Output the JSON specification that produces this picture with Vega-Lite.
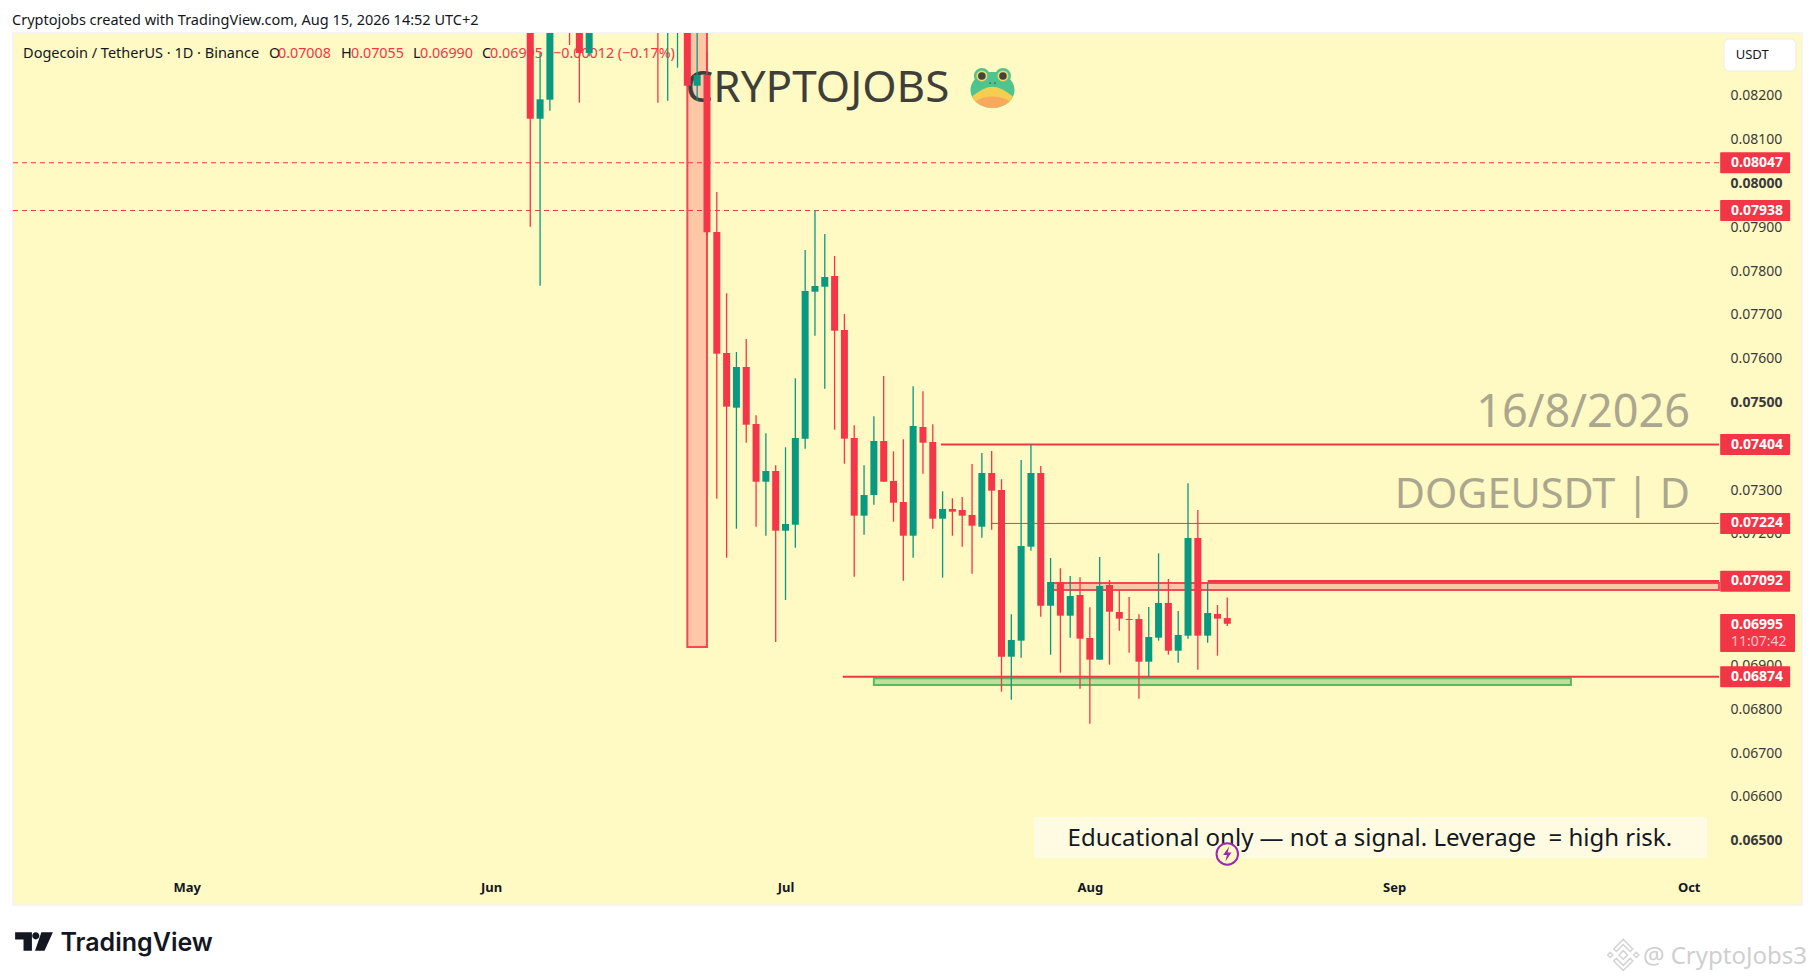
{
"$schema":"https://vega.github.io/schema/vega-lite/v6.json",
"width":1789,"height":872,"autosize":"none",
"padding":{"left":13,"top":33,"right":12,"bottom":75},
"background":"#FFFFFF",
"view":{"fill":"#FFF9C4","stroke":"#F2F2F0","strokeWidth":1.5},
"config":{"font":"Noto Sans"},
"datasets":{
"candles":[
{"date":"2026-06-05","open":0.0850,"high":0.0855,"low":0.079011,"close":0.081475},
{"date":"2026-06-06","open":0.081475,"high":0.082975,"low":0.077665,"close":0.081918},
{"date":"2026-06-07","open":0.081909,"high":0.0850,"low":0.081658,"close":0.0845},
{"date":"2026-06-09","open":0.0855,"high":0.0860,"low":0.083157,"close":0.0845},
{"date":"2026-06-10","open":0.0845,"high":0.0850,"low":0.081841,"close":0.082975},
{"date":"2026-06-11","open":0.082975,"high":0.0850,"low":0.0829,"close":0.0845},
{"date":"2026-06-18","open":0.0850,"high":0.0855,"low":0.081841,"close":0.0845},
{"date":"2026-06-19","open":0.0845,"high":0.0860,"low":0.081886,"close":0.0855},
{"date":"2026-06-20","open":0.0845,"high":0.0858,"low":0.082639,"close":0.0852},
{"date":"2026-06-21","open":0.0850,"high":0.0855,"low":0.0822,"close":0.082228},
{"date":"2026-06-22","open":0.082228,"high":0.0845,"low":0.081886,"close":0.082473},
{"date":"2026-06-23","open":0.082473,"high":0.0830,"low":0.0788,"close":0.078883},
{"date":"2026-06-24","open":0.07889,"high":0.079803,"low":0.072805,"close":0.076113},
{"date":"2026-06-25","open":0.076129,"high":0.077491,"low":0.071458,"close":0.074904},
{"date":"2026-06-26","open":0.074881,"high":0.076152,"low":0.07212,"close":0.07581},
{"date":"2026-06-27","open":0.07581,"high":0.076449,"low":0.074082,"close":0.074493},
{"date":"2026-06-28","open":0.074509,"high":0.074708,"low":0.072166,"close":0.073192},
{"date":"2026-06-29","open":0.073192,"high":0.074297,"low":0.07196,"close":0.073437},
{"date":"2026-06-30","open":0.073437,"high":0.073567,"low":0.069535,"close":0.072074},
{"date":"2026-07-01","open":0.072074,"high":0.073977,"low":0.070493,"close":0.072227},
{"date":"2026-07-02","open":0.072211,"high":0.075552,"low":0.071687,"close":0.07419},
{"date":"2026-07-03","open":0.074174,"high":0.07848,"low":0.073946,"close":0.077544},
{"date":"2026-07-04","open":0.077528,"high":0.079392,"low":0.076524,"close":0.077658},
{"date":"2026-07-05","open":0.077642,"high":0.078845,"low":0.075315,"close":0.077863},
{"date":"2026-07-06","open":0.077886,"high":0.078343,"low":0.074379,"close":0.076638},
{"date":"2026-07-07","open":0.076654,"high":0.077019,"low":0.073603,"close":0.074174},
{"date":"2026-07-08","open":0.07419,"high":0.07448,"low":0.071025,"close":0.072417},
{"date":"2026-07-09","open":0.072417,"high":0.073567,"low":0.071983,"close":0.072889},
{"date":"2026-07-10","open":0.072889,"high":0.074685,"low":0.072668,"close":0.074121},
{"date":"2026-07-11","open":0.074121,"high":0.075604,"low":0.07319,"close":0.073192},
{"date":"2026-07-12","open":0.073209,"high":0.073886,"low":0.07228,"close":0.072713},
{"date":"2026-07-13","open":0.072729,"high":0.07416,"low":0.070934,"close":0.07196},
{"date":"2026-07-14","open":0.07196,"high":0.075369,"low":0.071458,"close":0.074463},
{"date":"2026-07-15","open":0.074441,"high":0.075255,"low":0.073375,"close":0.074082},
{"date":"2026-07-16","open":0.074098,"high":0.074502,"low":0.07212,"close":0.072348},
{"date":"2026-07-17","open":0.072348,"high":0.072973,"low":0.071002,"close":0.07257},
{"date":"2026-07-18","open":0.07257,"high":0.072814,"low":0.07196,"close":0.072508},
{"date":"2026-07-19","open":0.072547,"high":0.072843,"low":0.07171,"close":0.072417},
{"date":"2026-07-20","open":0.072433,"high":0.073596,"low":0.071093,"close":0.072189},
{"date":"2026-07-21","open":0.072166,"high":0.073847,"low":0.071915,"close":0.073391},
{"date":"2026-07-22","open":0.073391,"high":0.073893,"low":0.072097,"close":0.072987},
{"date":"2026-07-23","open":0.073003,"high":0.073247,"low":0.068401,"close":0.069199},
{"date":"2026-07-24","open":0.069199,"high":0.070166,"low":0.068218,"close":0.069581},
{"date":"2026-07-25","open":0.069565,"high":0.073688,"low":0.069177,"close":0.071725},
{"date":"2026-07-26","open":0.07171,"high":0.074053,"low":0.071618,"close":0.073391},
{"date":"2026-07-27","open":0.073391,"high":0.073551,"low":0.070112,"close":0.070363},
{"date":"2026-07-28","open":0.070363,"high":0.071452,"low":0.069245,"close":0.070904},
{"date":"2026-07-29","open":0.070904,"high":0.071216,"low":0.068834,"close":0.070135},
{"date":"2026-07-30","open":0.070135,"high":0.071041,"low":0.069633,"close":0.070584},
{"date":"2026-07-31","open":0.070607,"high":0.071011,"low":0.068469,"close":0.06961},
{"date":"2026-08-01","open":0.069626,"high":0.070327,"low":0.067671,"close":0.069131},
{"date":"2026-08-02","open":0.069131,"high":0.071474,"low":0.069131,"close":0.070813},
{"date":"2026-08-03","open":0.070835,"high":0.07095,"low":0.069017,"close":0.070226},
{"date":"2026-08-04","open":0.070219,"high":0.070699,"low":0.069793,"close":0.070067},
{"date":"2026-08-05","open":0.07006,"high":0.070562,"low":0.069291,"close":0.070037},
{"date":"2026-08-06","open":0.07006,"high":0.070166,"low":0.068241,"close":0.069085},
{"date":"2026-08-07","open":0.069085,"high":0.070333,"low":0.068743,"close":0.069649},
{"date":"2026-08-08","open":0.069633,"high":0.071559,"low":0.069565,"close":0.070425},
{"date":"2026-08-09","open":0.070425,"high":0.070972,"low":0.069245,"close":0.069336},
{"date":"2026-08-10","open":0.069336,"high":0.070242,"low":0.069062,"close":0.069695},
{"date":"2026-08-11","open":0.069679,"high":0.073156,"low":0.06961,"close":0.071908},
{"date":"2026-08-12","open":0.071908,"high":0.072547,"low":0.068903,"close":0.069679},
{"date":"2026-08-13","open":0.069679,"high":0.070881,"low":0.069519,"close":0.070197},
{"date":"2026-08-14","open":0.070174,"high":0.070379,"low":0.069222,"close":0.070067},
{"date":"2026-08-15","open":0.07008,"high":0.07055,"low":0.0699,"close":0.06995}
],
"tags":[
{"start":"2026-10-04T05:00:00Z","end":"2026-10-11T08:00:00Z","top":0.08071,"bottom":0.08023,"at":"2026-10-05T07:30:00Z","price":0.08047,"label":"0.08047"},
{"start":"2026-10-04T05:00:00Z","end":"2026-10-11T08:00:00Z","top":0.07962,"bottom":0.07914,"at":"2026-10-05T07:30:00Z","price":0.07938,"label":"0.07938"},
{"start":"2026-10-04T05:00:00Z","end":"2026-10-11T08:00:00Z","top":0.07428,"bottom":0.0738,"at":"2026-10-05T07:30:00Z","price":0.07404,"label":"0.07404"},
{"start":"2026-10-04T05:00:00Z","end":"2026-10-11T08:00:00Z","top":0.07248,"bottom":0.072,"at":"2026-10-05T07:30:00Z","price":0.07224,"label":"0.07224"},
{"start":"2026-10-04T05:00:00Z","end":"2026-10-11T08:00:00Z","top":0.07116,"bottom":0.07068,"at":"2026-10-05T07:30:00Z","price":0.07092,"label":"0.07092"},
{"start":"2026-10-04T05:00:00Z","end":"2026-10-11T08:00:00Z","top":0.06898,"bottom":0.0685,"at":"2026-10-05T07:30:00Z","price":0.06874,"label":"0.06874"},
{"start":"2026-10-04T05:00:00Z","end":"2026-10-11T20:00:00Z","top":0.070174,"bottom":0.069307,"at":"2026-10-05T07:30:00Z","price":0.069923,"label":"0.06995"}
]
},
"layer":[
{"data":{"values":[{"date":"2026-04-13T05:00:00Z","price":0.083705,"label":"Cryptojobs created with TradingView.com, Aug 15, 2026 14:52 UTC+2"}]},
"mark":{"type":"text","align":"left","baseline":"middle","fontSize":14.5,"color":"#131722"},
"encoding":{
"x":{"field":"date","type":"temporal","scale":{"type":"utc","padding":0,"domain":["2026-04-13T07:26:00Z","2026-10-12T13:00:00Z"]},
"axis":{"orient":"bottom","title":null,"offset":-18,"labelPadding":0,"ticks":false,"domain":false,"grid":false,"labelFontSize":13,"labelFontWeight":"bold","labelColor":"#131722","labelFont":"Noto Sans","labelBaseline":"middle","labelAlign":"center","labelOverlap":false,"labelFlush":false,"labelExpr":"utcFormat(datum.value,'%b')",
"values":[{"year":2026,"month":5,"date":1,"utc":true},{"year":2026,"month":6,"date":1,"utc":true},{"year":2026,"month":7,"date":1,"utc":true},{"year":2026,"month":8,"date":1,"utc":true},{"year":2026,"month":9,"date":1,"utc":true},{"year":2026,"month":10,"date":1,"utc":true}]}},
"y":{"field":"price","type":"quantitative","scale":{"domain":[0.063533,0.083431],"nice":false,"zero":false},
"axis":{"orient":"right","title":null,"offset":-72,"labelPadding":0,"ticks":false,"domain":false,"grid":false,"labelFontSize":14,"labelFont":"Noto Sans","labelAlign":"left","labelBaseline":"middle","labelOverlap":false,"labelFlush":false,"format":".5f",
"labelColor":"#3A3A3A",
"labelFontWeight":{"condition":{"test":"indexof(['0.08000','0.07500','0.06500'],format(datum.value,'.5f'))>=0","value":"bold"},"value":"normal"},
"values":[0.065,0.066,0.067,0.068,0.069,0.07,0.071,0.072,0.073,0.074,0.075,0.076,0.077,0.078,0.079,0.08,0.081,0.082]}},
"text":{"field":"label"}}},
{"data":{"values":[
{"date":"2026-04-14T08:00:00Z","price":0.082945,"label":"Dogecoin / TetherUS · 1D · Binance"},
{"date":"2026-05-09T09:20:00Z","price":0.082945,"label":"O"},
{"date":"2026-05-16T17:16:00Z","price":0.082945,"label":"H"},
{"date":"2026-05-24T01:12:00Z","price":0.082945,"label":"L"},
{"date":"2026-05-31T02:00:00Z","price":0.082945,"label":"C"}]},
"mark":{"type":"text","align":"left","baseline":"middle","fontSize":14.5,"color":"#131722"},
"encoding":{"x":{"field":"date","type":"temporal"},"y":{"field":"price","type":"quantitative"},"text":{"field":"label"}}},
{"data":{"values":[
{"date":"2026-05-10T07:12:00Z","price":0.082945,"label":"0.07008"},
{"date":"2026-05-17T17:45:00Z","price":0.082945,"label":"0.07055"},
{"date":"2026-05-24T18:28:00Z","price":0.082945,"label":"0.06990"},
{"date":"2026-05-31T21:36:00Z","price":0.082945,"label":"0.06995"},
{"date":"2026-06-07T07:40:00Z","price":0.082945,"label":"−0.00012 (−0.17%)"}]},
"mark":{"type":"text","align":"left","baseline":"middle","fontSize":14.3,"color":"#F23645"},
"encoding":{"x":{"field":"date","type":"temporal"},"y":{"field":"price","type":"quantitative"},"text":{"field":"label"}}},
{"data":{"values":[{"date":"2026-10-01T03:00:00Z","price":0.074806,"label":"16/8/2026"}]},
"mark":{"type":"text","align":"right","baseline":"middle","dy":2.3,"fontSize":45,"color":"#ABA78E"},
"encoding":{"x":{"field":"date","type":"temporal"},"y":{"field":"price","type":"quantitative"},"text":{"field":"label"}}},
{"data":{"values":[{"date":"2026-10-01T03:00:00Z","price":0.072912,"label":"DOGEUSDT | D"}]},
"mark":{"type":"text","align":"right","baseline":"middle","dy":2.3,"fontSize":41.4,"color":"#ABA78E"},
"encoding":{"x":{"field":"date","type":"temporal"},"y":{"field":"price","type":"quantitative"},"text":{"field":"label"}}},
{"data":{"values":[{"date":"2026-07-22T02:00:00Z","price":0.08213}]},
"mark":{"type":"point","shape":"M-1,0 A1,0.82 0 1,1 1,0 A1,0.82 0 1,1 -1,0 Z","size":1936,"filled":true,"color":"#4FC48F","opacity":1},
"encoding":{"x":{"field":"date","type":"temporal"},"y":{"field":"price","type":"quantitative"}}},
{"data":{"values":[{"date":"2026-07-21T00:00:00Z","price":0.08245},{"date":"2026-07-23T03:36:00Z","price":0.08245}]},
"mark":{"type":"point","shape":"circle","size":254,"filled":true,"color":"#4FC48F","opacity":1},
"encoding":{"x":{"field":"date","type":"temporal"},"y":{"field":"price","type":"quantitative"}}},
{"data":{"values":[{"date":"2026-07-21T00:00:00Z","price":0.08245},{"date":"2026-07-23T03:36:00Z","price":0.08245}]},
"mark":{"type":"point","shape":"circle","size":120,"filled":true,"color":"#F0D768","opacity":1},
"encoding":{"x":{"field":"date","type":"temporal"},"y":{"field":"price","type":"quantitative"}}},
{"data":{"values":[{"date":"2026-07-21T00:00:00Z","price":0.08245},{"date":"2026-07-23T03:36:00Z","price":0.08245}]},
"mark":{"type":"point","shape":"circle","size":58,"filled":true,"color":"#44443F","opacity":1},
"encoding":{"x":{"field":"date","type":"temporal"},"y":{"field":"price","type":"quantitative"}}},
{"data":{"values":[{"date":"2026-07-21T20:00:00Z","price":0.08229},{"date":"2026-07-22T08:00:00Z","price":0.08229}]},
"mark":{"type":"point","shape":"circle","size":3,"filled":true,"color":"#2E5E48","opacity":1},
"encoding":{"x":{"field":"date","type":"temporal"},"y":{"field":"price","type":"quantitative"}}},
{"data":{"values":[{"date":"2026-07-22T02:00:00Z","price":0.08213}]},
"mark":{"type":"point","shape":"M-0.93,0.3 Q-0.4,-0.15 0,-0.15 Q0.4,-0.15 0.93,0.3 A1,0.82 0 0 1 -0.93,0.3 Z","size":1936,"filled":true,"color":"#F6CE4F","opacity":1},
"encoding":{"x":{"field":"date","type":"temporal"},"y":{"field":"price","type":"quantitative"}}},
{"data":{"values":[{"date":"2026-07-22T02:00:00Z","price":0.08213}]},
"mark":{"type":"point","shape":"M-0.78,0.5 Q0,0.1 0.78,0.5 A1,0.82 0 0 1 -0.78,0.5 Z","size":1936,"filled":true,"color":"#F8A95E","opacity":1},
"encoding":{"x":{"field":"date","type":"temporal"},"y":{"field":"price","type":"quantitative"}}},
{"data":{"values":[{"start":"2026-07-26T07:30:00Z","end":"2026-10-02T21:00:00Z","top":0.065542,"bottom":0.064606}]},
"mark":{"type":"rect","color":"#FFFBE3"},
"encoding":{"x":{"field":"start","type":"temporal"},"x2":{"field":"end"},"y":{"field":"top","type":"quantitative"},"y2":{"field":"bottom"}}},
{"data":{"values":[{"date":"2026-08-29T12:30:00Z","price":0.065085,"label":"Educational only — not a signal. Leverage\u00a0 = high risk."}]},
"mark":{"type":"text","align":"center","baseline":"middle","dy":2.3,"fontSize":24,"color":"#131722"},
"encoding":{"x":{"field":"date","type":"temporal"},"y":{"field":"price","type":"quantitative"},"text":{"field":"label"}}},
{"data":{"values":[
{"start":"2026-06-21","end":"2026-06-23","top":0.0860,"bottom":0.069421},
{"start":"2026-07-28","end":"2026-10-04T02:00:00Z","top":0.070881,"bottom":0.070721}]},
"mark":{"type":"rect","fill":"#FEC8A6","stroke":"#F5475A","strokeWidth":2,"clip":true},
"encoding":{"x":{"field":"start","type":"temporal"},"x2":{"field":"end"},"y":{"field":"top","type":"quantitative"},"y2":{"field":"bottom"}}},
{"data":{"values":[{"start":"2026-07-10","end":"2026-09-19","top":0.068706,"bottom":0.068553}]},
"mark":{"type":"rect","fill":"#BFE09A","stroke":"#5CB85C","strokeWidth":2},
"encoding":{"x":{"field":"start","type":"temporal"},"x2":{"field":"end"},"y":{"field":"top","type":"quantitative"},"y2":{"field":"bottom"}}},
{"data":{"values":[
{"start":"2026-04-13T07:26:00Z","end":"2026-10-04T02:00:00Z","price":0.08047},
{"start":"2026-04-13T07:26:00Z","end":"2026-10-04T02:00:00Z","price":0.07938}]},
"mark":{"type":"rule","color":"#F23645","strokeWidth":1,"strokeDash":[5,4]},
"encoding":{"x":{"field":"start","type":"temporal"},"x2":{"field":"end"},"y":{"field":"price","type":"quantitative"}}},
{"data":{"values":[
{"start":"2026-07-16T20:00:00Z","end":"2026-10-04T02:00:00Z","price":0.07404},
{"start":"2026-07-06T20:00:00Z","end":"2026-10-04T02:00:00Z","price":0.06874}]},
"mark":{"type":"rule","color":"#F23645","strokeWidth":2},
"encoding":{"x":{"field":"start","type":"temporal"},"x2":{"field":"end"},"y":{"field":"price","type":"quantitative"}}},
{"data":{"values":[{"start":"2026-08-13","end":"2026-10-04T02:00:00Z","price":0.07092}]},
"mark":{"type":"rule","color":"#F23645","strokeWidth":2.5},
"encoding":{"x":{"field":"start","type":"temporal"},"x2":{"field":"end"},"y":{"field":"price","type":"quantitative"}}},
{"data":{"values":[{"start":"2026-07-21T22:00:00Z","end":"2026-10-04T02:00:00Z","price":0.07224}]},
"mark":{"type":"rule","color":"#F23645","strokeWidth":1},
"encoding":{"x":{"field":"start","type":"temporal"},"x2":{"field":"end"},"y":{"field":"price","type":"quantitative"}}},
{"data":{"values":[{"date":"2026-06-20T19:30:00Z","price":0.082199,"label":"CRYPTOJOBS"}]},
"mark":{"type":"text","align":"left","baseline":"middle","dy":2.3,"fontSize":44,"color":"#3F3F3A"},
"encoding":{"x":{"field":"date","type":"temporal"},"y":{"field":"price","type":"quantitative"},"text":{"field":"label"}}},
{"data":{"name":"candles"},
"mark":{"type":"rule","strokeWidth":1.3,"clip":true},
"encoding":{"x":{"field":"date","type":"temporal"},"y":{"field":"low","type":"quantitative"},"y2":{"field":"high"},
"color":{"condition":{"test":"datum.close>=datum.open","value":"#089981"},"value":"#F53648"}}},
{"data":{"name":"candles"},
"mark":{"type":"bar","size":7,"clip":true},
"encoding":{"x":{"field":"date","type":"temporal"},"y":{"field":"open","type":"quantitative"},"y2":{"field":"close"},
"color":{"condition":{"test":"datum.close>=datum.open","value":"#089981"},"value":"#F53648"}}},
{"data":{"values":[{"date":"2026-08-15","price":0.064697}]},
"mark":{"type":"point","shape":"circle","size":460,"filled":false,"fill":"#FFF9C4","stroke":"#9C27B0","strokeWidth":2,"opacity":1},
"encoding":{"x":{"field":"date","type":"temporal"},"y":{"field":"price","type":"quantitative"}}},
{"data":{"values":[{"date":"2026-08-15","price":0.064697}]},
"mark":{"type":"point","shape":"M0.25,-1 L-0.55,0.15 L-0.05,0.15 L-0.25,1 L0.55,-0.2 L0.05,-0.2 Z","size":225,"filled":true,"color":"#9C27B0","opacity":1},
"encoding":{"x":{"field":"date","type":"temporal"},"y":{"field":"price","type":"quantitative"}}},
{"data":{"values":[{"start":"2026-10-04T14:24:00Z","end":"2026-10-11T22:00:00Z","top":0.083294,"bottom":0.082564}]},
"mark":{"type":"rect","fill":"#FFFFFF","stroke":"#ECECEC","strokeWidth":1,"cornerRadius":5},
"encoding":{"x":{"field":"start","type":"temporal"},"x2":{"field":"end"},"y":{"field":"top","type":"quantitative"},"y2":{"field":"bottom"}}},
{"data":{"values":[{"date":"2026-10-05T19:00:00Z","price":0.082936,"label":"USDT"}]},
"mark":{"type":"text","align":"left","baseline":"middle","fontSize":13,"color":"#131722"},
"encoding":{"x":{"field":"date","type":"temporal"},"y":{"field":"price","type":"quantitative"},"text":{"field":"label"}}},
{"data":{"name":"tags"},
"mark":{"type":"rect","color":"#F23645","cornerRadius":1},
"encoding":{"x":{"field":"start","type":"temporal"},"x2":{"field":"end"},"y":{"field":"top","type":"quantitative"},"y2":{"field":"bottom"}}},
{"data":{"name":"tags"},
"mark":{"type":"text","align":"left","baseline":"middle","fontSize":14,"fontWeight":"bold","color":"#FFFFFF"},
"encoding":{"x":{"field":"at","type":"temporal"},"y":{"field":"price","type":"quantitative"},"text":{"field":"label"}}},
{"data":{"values":[{"date":"2026-10-05T07:30:00Z","price":0.069534,"label":"11:07:42"}]},
"mark":{"type":"text","align":"left","baseline":"middle","fontSize":14,"color":"#FFC4CC"},
"encoding":{"x":{"field":"date","type":"temporal"},"y":{"field":"price","type":"quantitative"},"text":{"field":"label"}}},
{"data":{"values":[{"date":"2026-04-15T10:48:00Z","price":0.0627}]},
"mark":{"type":"point","shape":"M-0.9,-0.44 H-0.1 V0.44 H-0.5 V-0.1 H-0.9 Z M-0.085,-0.27 A0.17,0.17 0 1,1 0.255,-0.27 A0.17,0.17 0 1,1 -0.085,-0.27 Z M0.35,-0.44 H0.9 L0.5,0.44 H0.05 Z","size":1764,"filled":true,"color":"#131722","opacity":1},
"encoding":{"x":{"field":"date","type":"temporal"},"y":{"field":"price","type":"quantitative"}}},
{"data":{"values":[{"date":"2026-04-18T03:30:00Z","price":0.062667,"label":"TradingView"}]},
"mark":{"type":"text","align":"left","baseline":"middle","fontSize":25,"fontWeight":600,"font":"Inter","color":"#131722"},
"encoding":{"x":{"field":"date","type":"temporal"},"y":{"field":"price","type":"quantitative"},"text":{"field":"label"}}},
{"data":{"values":[{"date":"2026-09-24T08:00:00Z","price":0.062393}]},
"mark":{"type":"point","shape":"M0,-0.25 L0.25,0 L0,0.25 L-0.25,0 Z M-0.75,-0.15 L-0.6,0 L-0.75,0.15 L-0.9,0 Z M0.75,-0.15 L0.9,0 L0.75,0.15 L0.6,0 Z M0,-0.9 L0.55,-0.35 L0.4,-0.2 L0,-0.6 L-0.4,-0.2 L-0.55,-0.35 Z M0,0.9 L0.55,0.35 L0.4,0.2 L0,0.6 L-0.4,0.2 L-0.55,0.35 Z","size":1200,"filled":false,"fill":"#FFFFFF","stroke":"#D4D4D4","strokeWidth":1.5,"opacity":1},
"encoding":{"x":{"field":"date","type":"temporal"},"y":{"field":"price","type":"quantitative"}}},
{"data":{"values":[{"date":"2026-09-26T08:00:00Z","price":0.062393,"label":"@ CryptoJobs3"}]},
"mark":{"type":"text","align":"left","baseline":"middle","dy":2.3,"fontSize":24,"color":"#CFCFCF"},
"encoding":{"x":{"field":"date","type":"temporal"},"y":{"field":"price","type":"quantitative"},"text":{"field":"label"}}}
]
}
